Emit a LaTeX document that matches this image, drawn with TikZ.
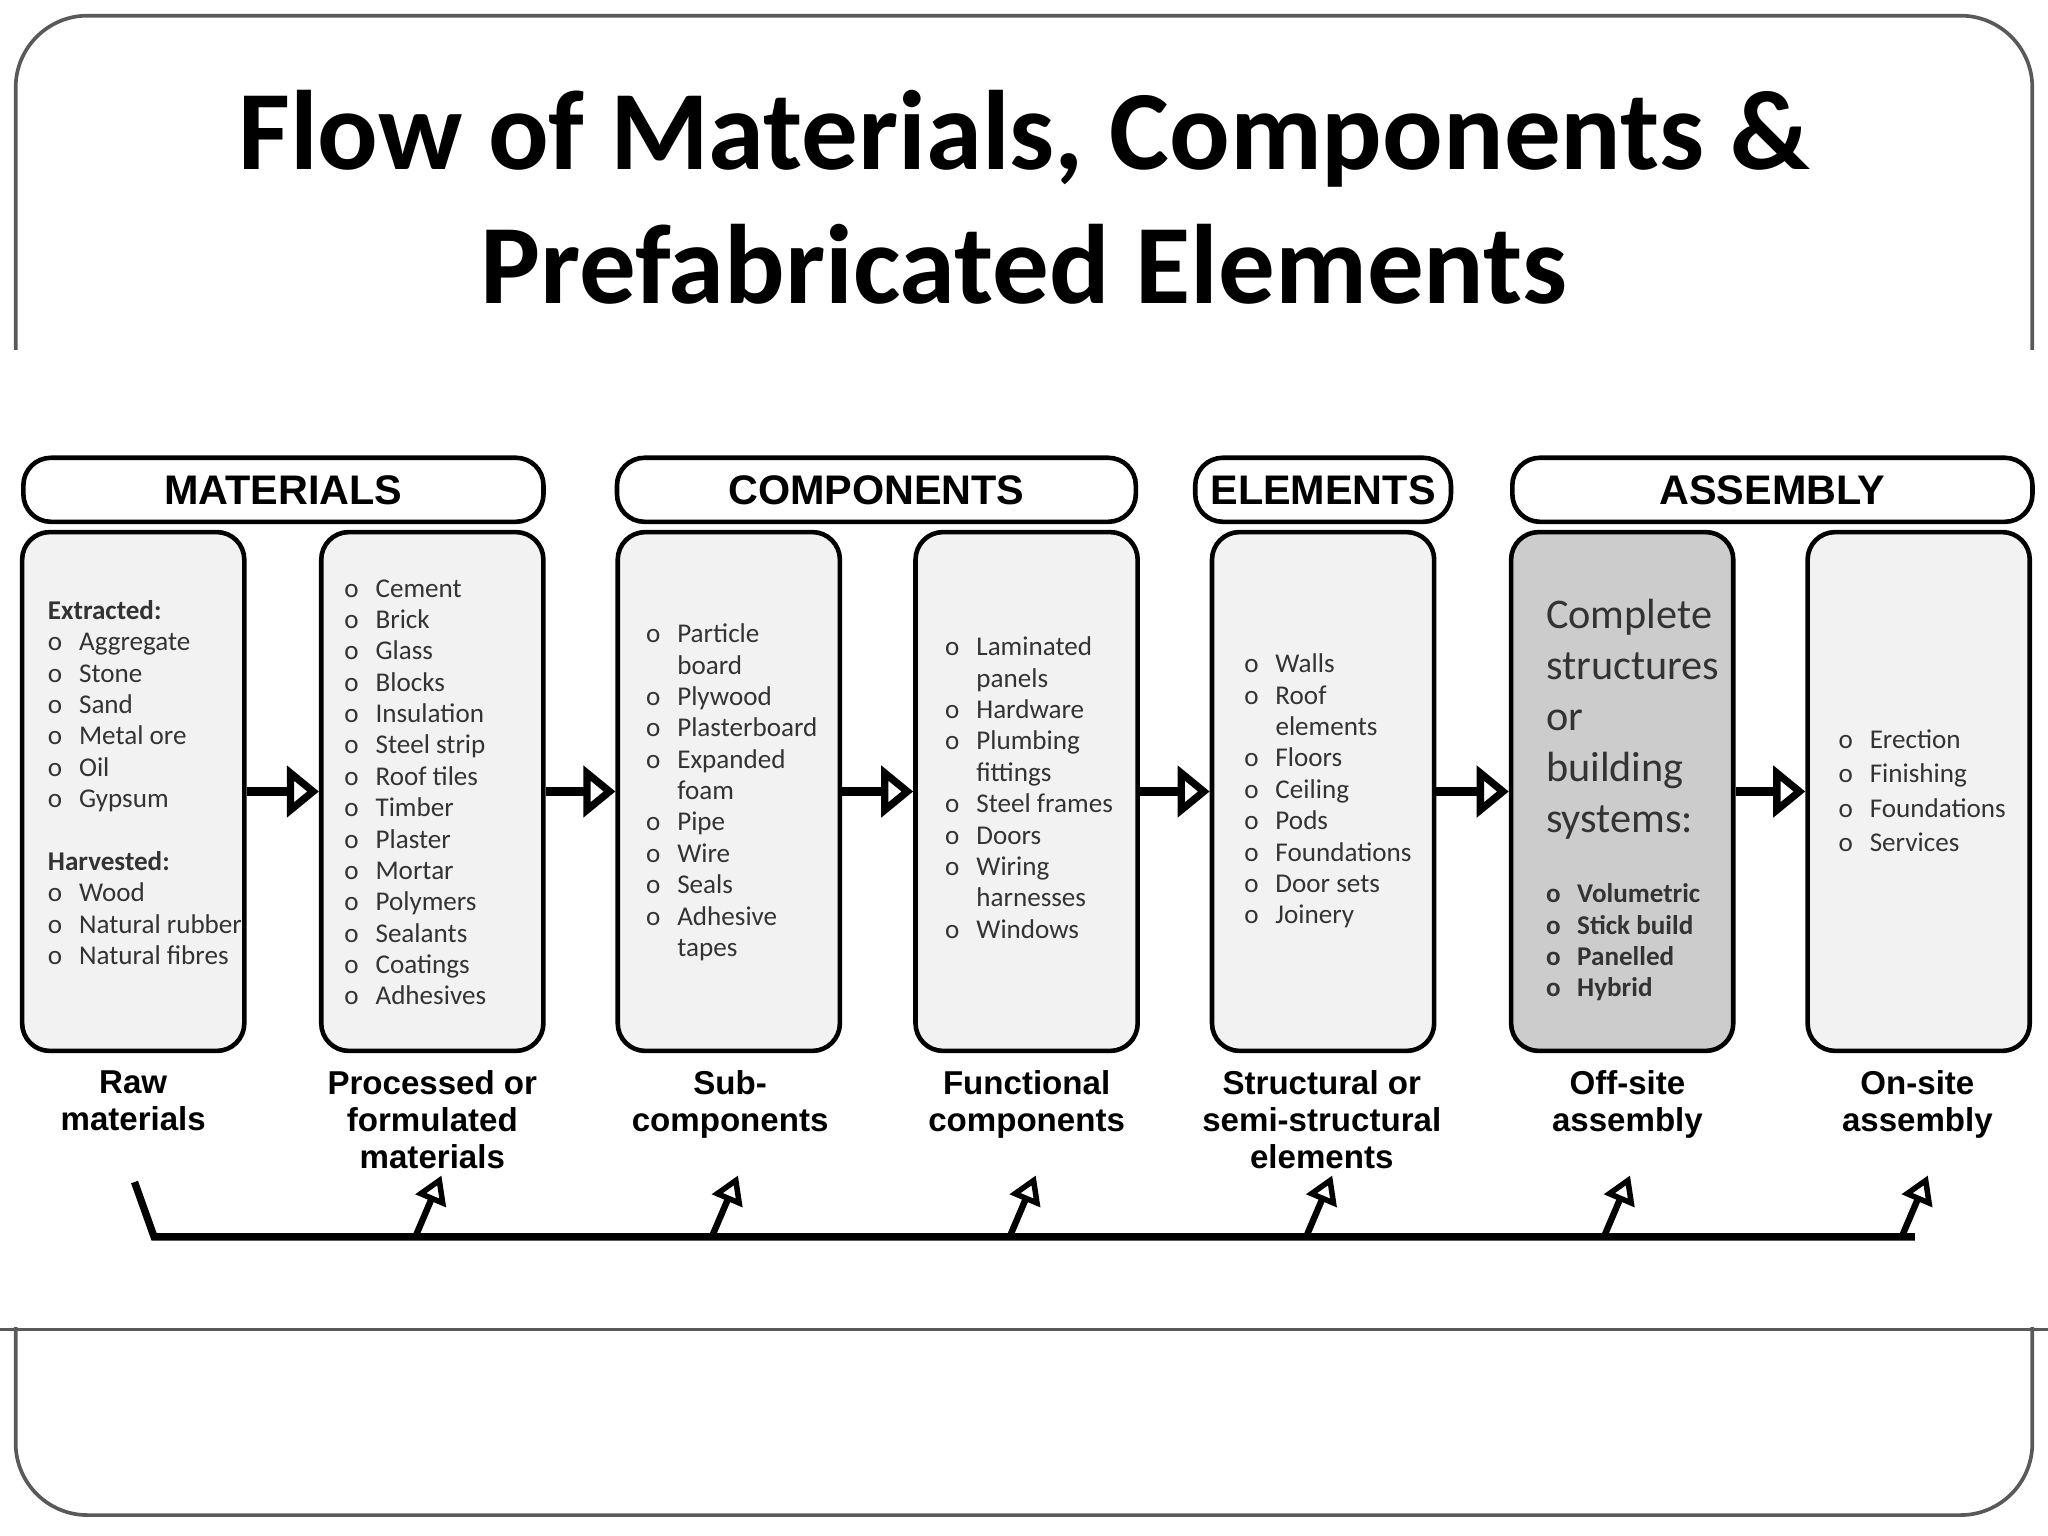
\documentclass[tikz,border=0pt]{standalone}
\usepackage{fontspec}
\setmainfont{Carlito}
\newfontfamily\hd{Liberation Sans}
\usetikzlibrary{arrows.meta}
\newcommand{\bi}[1]{\makebox[1.15em][l]{o}#1}
\newcommand{\ci}[1]{\hspace{1.15em}#1}
\begin{document}
\begin{tikzpicture}[x=0.01cm,y=-0.01cm,
  hdr/.style={draw,line width=1pt,rounded corners=6pt,minimum height=0.49cm,font=\hd\bfseries\fontsize{9}{10}\selectfont},
  col/.style={draw,line width=1pt,rounded corners=6pt,fill=gray!10,minimum width=1.70cm,minimum height=3.97cm},
  lst/.style={anchor=north west,inner sep=0pt,align=left,font=\fontsize{5.9}{6.83}\selectfont,text=black!80},
  lab/.style={anchor=north,inner sep=0pt,align=center,font=\hd\bfseries\fontsize{7.2}{8}\selectfont},
  fl/.style={line width=2pt,-{Triangle[open,length=7pt,width=11pt,line width=1.6pt]}},
  up/.style={line width=1.4pt,-{Triangle[open,length=6pt,width=7pt,line width=1.2pt]}}]
\useasboundingbox (0,0) rectangle (1568,1176);
\draw[line width=0.8pt,rounded corners=0.55cm,gray!70!black] (12,12) rectangle (1556,1160);
\fill[white] (0,268) rectangle (1568,1016);
\draw[line width=0.8pt,gray!70!black] (0,1018) -- (1568,1018);
\node[font=\bfseries\fontsize{24.6}{29}\selectfont,align=center] (title) at (784,151) {Flow of Materials, Components \&\\Prefabricated Elements};
% headers
\node[hdr,minimum width=3.98cm] (hm) at (217,375) {MATERIALS};
\node[hdr,minimum width=3.97cm] (hc) at (671,375) {COMPONENTS};
\node[hdr,minimum width=1.90cm] (he) at (1013,375) {ELEMENTS};
\node[hdr,minimum width=3.98cm] (ha) at (1357,375) {ASSEMBLY};
% columns
\node[col] (c1) at (102,606) {};
\node[col] (c2) at (331,606) {};
\node[col] (c3) at (558,606) {};
\node[col] (c4) at (786,606) {};
\node[col] (c5) at (1013,606) {};
\node[col,fill=gray!40] (c6) at (1242,606) {};
\node[col] (c7) at (1469,606) {};
\foreach \a/\b in {c1/c2,c2/c3,c3/c4,c4/c5,c5/c6,c6/c7}
  \draw[fl] (\a.east) -- (\b.west);
% lists
\node[lst] (l1) at (36,459) {\textbf{Extracted:}\\\bi{Aggregate}\\\bi{Stone}\\\bi{Sand}\\\bi{Metal ore}\\\bi{Oil}\\\bi{Gypsum}\\[6.83pt]\textbf{Harvested:}\\\bi{Wood}\\\bi{Natural rubber}\\\bi{Natural fibres}};
\node[lst] (l2) at (263,443) {\bi{Cement}\\\bi{Brick}\\\bi{Glass}\\\bi{Blocks}\\\bi{Insulation}\\\bi{Steel strip}\\\bi{Roof tiles}\\\bi{Timber}\\\bi{Plaster}\\\bi{Mortar}\\\bi{Polymers}\\\bi{Sealants}\\\bi{Coatings}\\\bi{Adhesives}};
\node[lst] (l3) at (494,477) {\bi{Particle}\\\ci{board}\\\bi{Plywood}\\\bi{Plasterboard}\\\bi{Expanded}\\\ci{foam}\\\bi{Pipe}\\\bi{Wire}\\\bi{Seals}\\\bi{Adhesive}\\\ci{tapes}};
\node[lst] (l4) at (723,487) {\bi{Laminated}\\\ci{panels}\\\bi{Hardware}\\\bi{Plumbing}\\\ci{fittings}\\\bi{Steel frames}\\\bi{Doors}\\\bi{Wiring}\\\ci{harnesses}\\\bi{Windows}};
\node[lst] (l5) at (952,500) {\bi{Walls}\\\bi{Roof}\\\ci{elements}\\\bi{Floors}\\\bi{Ceiling}\\\bi{Pods}\\\bi{Foundations}\\\bi{Door sets}\\\bi{Joinery}};
\node[lst,font=\fontsize{9.2}{11.1}\selectfont] (l6a) at (1183,458) {Complete\\structures\\or\\building\\systems:};
\node[lst,font=\bfseries\fontsize{5.9}{6.83}\selectfont] (l6b) at (1183,676) {\bi{Volumetric}\\\bi{Stick build}\\\bi{Panelled}\\\bi{Hybrid}};
\node[lst,font=\fontsize{5.9}{7.5}\selectfont] (l7) at (1407,558) {\bi{Erection}\\\bi{Finishing}\\\bi{Foundations}\\\bi{Services}};
% bottom labels
\node[lab] (b1) at (102,819) {Raw\\materials};
\node[lab] (b2) at (331,819) {Processed or\\formulated\\materials};
\node[lab] (b3) at (559,819) {Sub-\\components};
\node[lab] (b4) at (786,819) {Functional\\components};
\node[lab] (b5) at (1012,819) {Structural or\\semi-structural\\elements};
\node[lab] (b6) at (1246,819) {Off-site\\assembly};
\node[lab] (b7) at (1468,819) {On-site\\assembly};
% bottom return line
\coordinate (s0) at (103,905);
\coordinate (s1) at (118,947);
\coordinate (s2) at (1466,947);
\draw[line width=1.6pt] (s0) -- (s1) -- (s2);
\foreach \x in {330,557,785,1012,1240,1468}
  \draw[up] (\x-12,947) -- (\x+8,900);
\end{tikzpicture}
\end{document}
